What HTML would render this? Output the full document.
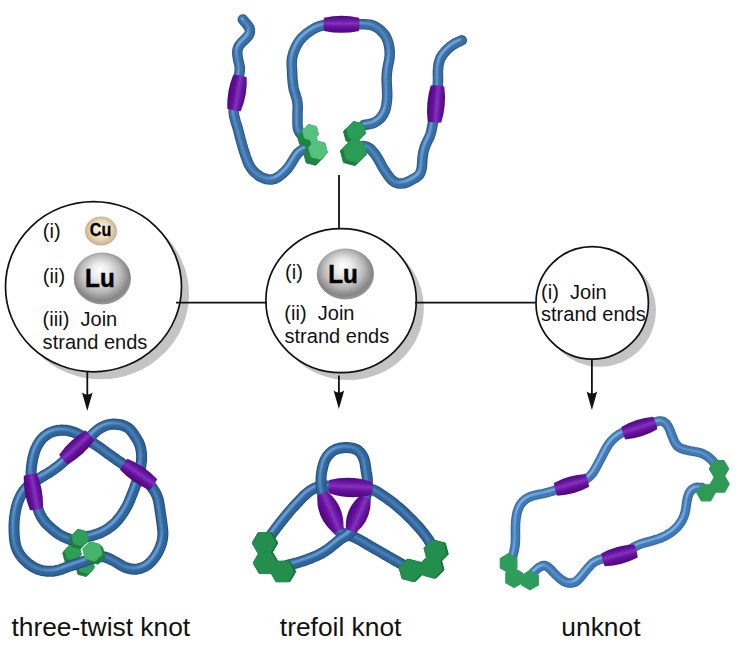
<!DOCTYPE html>
<html><head><meta charset="utf-8"><style>
html,body{margin:0;padding:0;background:#fff;}
svg{display:block;}
</style></head><body>
<svg width="756" height="647" viewBox="0 0 756 647">
<defs>
<filter id="tb" filterUnits="userSpaceOnUse" x="0" y="0" width="756" height="647" color-interpolation-filters="sRGB">
<feGaussianBlur in="SourceAlpha" stdDeviation="2" result="blur"/>
<feSpecularLighting in="blur" surfaceScale="4" specularConstant="0.55" specularExponent="14" lighting-color="#ffffff" result="spec">
<feDistantLight azimuth="225" elevation="48"/>
</feSpecularLighting>
<feComposite in="spec" in2="SourceAlpha" operator="in" result="specIn"/>
<feComposite in="SourceGraphic" in2="specIn" operator="arithmetic" k1="0" k2="1" k3="0.45" k4="0"/>
</filter>
<linearGradient id="pg" x1="0" y1="0" x2="0" y2="1">
<stop offset="0" stop-color="#4c0880"/><stop offset="0.25" stop-color="#6a14a4"/><stop offset="0.45" stop-color="#8034b8"/><stop offset="0.65" stop-color="#6810a0"/><stop offset="1" stop-color="#4a0678"/>
</linearGradient>
<radialGradient id="lug" cx="0.48" cy="0.45" r="0.56" fx="0.45" fy="0.32">
<stop offset="0" stop-color="#ffffff"/><stop offset="0.28" stop-color="#eaeaea"/><stop offset="0.62" stop-color="#bcbcbc"/><stop offset="0.88" stop-color="#858585"/><stop offset="1" stop-color="#9c9c9c"/>
</radialGradient>
<radialGradient id="cug" cx="0.5" cy="0.5" r="0.55" fx="0.5" fy="0.4">
<stop offset="0" stop-color="#fbf5ea"/><stop offset="0.55" stop-color="#eadbc2"/><stop offset="0.9" stop-color="#c9b28a"/><stop offset="1" stop-color="#b09a72"/>
</radialGradient>
</defs>
<ellipse cx="101.0" cy="294.2" rx="88.0" ry="85.1" fill="#c4c4c4"/><ellipse cx="93.5" cy="286.7" rx="88.0" ry="85.1" fill="#fff" stroke="#111" stroke-width="1.7"/>
<ellipse cx="348.6" cy="308.1" rx="75.2" ry="72.0" fill="#c4c4c4"/><ellipse cx="341.1" cy="300.6" rx="75.2" ry="72.0" fill="#fff" stroke="#111" stroke-width="1.7"/>
<ellipse cx="599.7" cy="310.4" rx="56.2" ry="56.3" fill="#c4c4c4"/><ellipse cx="592.2" cy="302.9" rx="56.2" ry="56.3" fill="#fff" stroke="#111" stroke-width="1.7"/>
<line x1="339" y1="175" x2="339" y2="229" stroke="#111" stroke-width="1.8"/>
<line x1="176" y1="302.7" x2="267" y2="302.7" stroke="#111" stroke-width="1.8"/>
<line x1="415" y1="302.7" x2="536" y2="302.7" stroke="#111" stroke-width="1.8"/>
<line x1="87.3" y1="371.0" x2="87.3" y2="401.0" stroke="#111" stroke-width="1.8"/><path d="M82.0,392.5 Q85.3,395.0 87.3,394.5 Q89.3,395.0 92.6,392.5 L87.3,411.0 Z" fill="#111"/>
<line x1="338.9" y1="375.5" x2="338.9" y2="399.0" stroke="#111" stroke-width="1.8"/><path d="M333.6,390.5 Q336.9,393.0 338.9,392.5 Q340.9,393.0 344.2,390.5 L338.9,409.0 Z" fill="#111"/>
<line x1="591.9" y1="360.0" x2="591.9" y2="400.0" stroke="#111" stroke-width="1.8"/><path d="M586.6,391.5 Q589.9,394.0 591.9,393.5 Q593.9,394.0 597.2,391.5 L591.9,410.0 Z" fill="#111"/>
<text transform="translate(42.8,238.0) scale(1.040,1)" font-family="Liberation Sans" font-size="19.3"  fill="#111" text-anchor="start">(i)</text>
<ellipse cx="101.0" cy="231.0" rx="16.0" ry="14.6" fill="url(#cug)"/><text transform="translate(100.5,236.3) scale(0.920,1)" font-family="Liberation Sans" font-size="17.5" font-weight="bold" fill="#000" stroke="#000" stroke-width="0.30" text-anchor="middle">Cu</text>
<text transform="translate(42.8,282.5) scale(1.040,1)" font-family="Liberation Sans" font-size="19.3"  fill="#111" text-anchor="start">(ii)</text>
<ellipse cx="102.4" cy="278.5" rx="28.6" ry="25.9" fill="url(#lug)"/><text transform="translate(99.9,287.2) scale(0.950,1)" font-family="Liberation Sans" font-size="25.5" font-weight="bold" fill="#000" stroke="#000" stroke-width="0.50" text-anchor="middle">Lu</text>
<text transform="translate(42.6,325.9) scale(1.040,1)" font-family="Liberation Sans" font-size="19.3"  fill="#111" text-anchor="start">(iii)&#160;&#160;Join</text>
<text transform="translate(42.6,348.6) scale(1.040,1)" font-family="Liberation Sans" font-size="19.3"  fill="#111" text-anchor="start">strand ends</text>
<text transform="translate(285.0,278.5) scale(1.040,1)" font-family="Liberation Sans" font-size="19.3"  fill="#111" text-anchor="start">(i)</text>
<ellipse cx="345.4" cy="274.0" rx="28.6" ry="25.4" fill="url(#lug)"/><text transform="translate(343.1,282.6) scale(0.950,1)" font-family="Liberation Sans" font-size="25.5" font-weight="bold" fill="#000" stroke="#000" stroke-width="0.50" text-anchor="middle">Lu</text>
<text transform="translate(284.3,320.2) scale(1.040,1)" font-family="Liberation Sans" font-size="19.3"  fill="#111" text-anchor="start">(ii)&#160;&#160;Join</text>
<text transform="translate(284.5,342.5) scale(1.040,1)" font-family="Liberation Sans" font-size="19.3"  fill="#111" text-anchor="start">strand ends</text>
<text transform="translate(541.0,299.0) scale(1.040,1)" font-family="Liberation Sans" font-size="19.3"  fill="#111" text-anchor="start">(i)&#160;&#160;Join</text>
<text transform="translate(541.0,320.8) scale(1.040,1)" font-family="Liberation Sans" font-size="19.3"  fill="#111" text-anchor="start">strand ends</text>
<text transform="translate(11.4,636.3) scale(1.055,1)" font-family="Liberation Sans" font-size="25.0"  fill="#111" text-anchor="start">three-twist knot</text>
<text transform="translate(279.8,636.3) scale(1.055,1)" font-family="Liberation Sans" font-size="25.0"  fill="#111" text-anchor="start">trefoil knot</text>
<text transform="translate(561.3,636.3) scale(1.055,1)" font-family="Liberation Sans" font-size="25.0"  fill="#111" text-anchor="start">unknot</text>
<g filter="url(#tb)"><path d="M242.8,19.5 244.2,21.2 245.7,22.9 247.1,24.6 248.4,26.3 249.4,28.0 249.9,29.8 249.9,31.8 249.4,33.7 248.5,35.6 247.1,37.2 245.6,38.7 244.0,40.3 242.4,41.8 240.9,43.5 239.5,45.2 238.4,47.1 237.7,49.0 237.3,51.1 237.3,53.2 237.4,55.4 237.8,57.6 238.2,59.8 238.7,62.0 239.2,64.1 239.6,66.3 239.8,68.4 239.8,70.5 239.5,72.6 239.2,74.7 238.9,76.7 238.7,78.6 238.5,80.6 238.3,82.6 238.1,84.6 237.8,86.7 237.6,88.8 237.3,90.9 237.0,93.0 236.6,95.0 236.1,97.0 235.6,99.0 235.1,101.0 234.6,103.0 234.2,105.0 233.9,107.0 233.7,109.0 233.6,111.0 233.8,113.0 234.0,115.1 234.4,117.1 235.0,119.1 235.5,121.2 236.1,123.2 236.8,125.3 237.4,127.3 238.0,129.3 238.5,131.3 239.0,133.3 239.5,135.2 240.0,137.2 240.5,139.1 241.0,141.1 241.6,143.1 242.1,145.0 242.7,146.9 243.3,148.9 243.9,150.9 244.6,152.9 245.3,155.0 245.9,157.0 246.7,159.1 247.4,161.1 248.2,163.0 249.1,164.9 250.1,166.6 251.2,168.3 252.4,170.0 253.9,171.5 255.4,173.0 257.0,174.3 258.6,175.6 260.3,176.6 262.1,177.5 264.0,178.3 266.0,179.0 268.1,179.4 270.1,179.6 272.1,179.5 274.0,179.0 275.8,178.3 277.6,177.4 279.4,176.2 281.1,174.8 282.8,173.4 284.5,171.8 286.0,170.3 287.4,168.7 288.7,167.0 289.9,165.3 291.1,163.4 292.3,161.5 293.4,159.6 294.6,157.7 295.7,156.0 296.9,154.4 298.1,152.9 299.6,151.6 301.3,150.3 303.1,149.3 305.1,148.3 307.0,147.5 308.0,147.0" fill="none" stroke="#2b5987" stroke-width="10.5" stroke-linecap="round" stroke-linejoin="round"/><path d="M242.8,19.5 244.2,21.2 245.7,22.9 247.1,24.6 248.4,26.3 249.4,28.0 249.9,29.8 249.9,31.8 249.4,33.7 248.5,35.6 247.1,37.2 245.6,38.7 244.0,40.3 242.4,41.8 240.9,43.5 239.5,45.2 238.4,47.1 237.7,49.0 237.3,51.1 237.3,53.2 237.4,55.4 237.8,57.6 238.2,59.8 238.7,62.0 239.2,64.1 239.6,66.3 239.8,68.4 239.8,70.5 239.5,72.6 239.2,74.7 238.9,76.7 238.7,78.6 238.5,80.6 238.3,82.6 238.1,84.6 237.8,86.7 237.6,88.8 237.3,90.9 237.0,93.0 236.6,95.0 236.1,97.0 235.6,99.0 235.1,101.0 234.6,103.0 234.2,105.0 233.9,107.0 233.7,109.0 233.6,111.0 233.8,113.0 234.0,115.1 234.4,117.1 235.0,119.1 235.5,121.2 236.1,123.2 236.8,125.3 237.4,127.3 238.0,129.3 238.5,131.3 239.0,133.3 239.5,135.2 240.0,137.2 240.5,139.1 241.0,141.1 241.6,143.1 242.1,145.0 242.7,146.9 243.3,148.9 243.9,150.9 244.6,152.9 245.3,155.0 245.9,157.0 246.7,159.1 247.4,161.1 248.2,163.0 249.1,164.9 250.1,166.6 251.2,168.3 252.4,170.0 253.9,171.5 255.4,173.0 257.0,174.3 258.6,175.6 260.3,176.6 262.1,177.5 264.0,178.3 266.0,179.0 268.1,179.4 270.1,179.6 272.1,179.5 274.0,179.0 275.8,178.3 277.6,177.4 279.4,176.2 281.1,174.8 282.8,173.4 284.5,171.8 286.0,170.3 287.4,168.7 288.7,167.0 289.9,165.3 291.1,163.4 292.3,161.5 293.4,159.6 294.6,157.7 295.7,156.0 296.9,154.4 298.1,152.9 299.6,151.6 301.3,150.3 303.1,149.3 305.1,148.3 307.0,147.5 308.0,147.0" fill="none" stroke="#386ea3" stroke-width="8.3" stroke-linecap="round" stroke-linejoin="round"/></g>
<g filter="url(#tb)"><path d="M304.0,137.0 302.5,135.6 301.1,134.2 299.8,132.6 298.8,131.0 298.2,129.3 297.8,127.4 297.6,125.4 297.5,123.4 297.5,121.2 297.5,119.1 297.5,117.0 297.5,115.0 297.5,112.9 297.6,110.8 297.7,108.7 297.7,106.6 297.6,104.5 297.4,102.5 297.1,100.5 296.6,98.5 296.0,96.5 295.4,94.6 294.8,92.7 294.2,90.7 293.7,88.7 293.3,86.6 293.0,84.6 292.8,82.5 292.6,80.4 292.4,78.2 292.3,76.1 292.2,74.0 292.1,71.9 292.0,69.9 291.9,67.9 291.7,65.9 291.7,64.0 291.7,62.0 291.8,60.1 292.1,58.1 292.5,56.2 293.0,54.3 293.6,52.3 294.3,50.4 295.2,48.4 296.1,46.4 297.1,44.5 298.2,42.7 299.4,40.9 300.7,39.3 302.0,37.8 303.4,36.4 304.9,35.0 306.5,33.7 308.2,32.4 309.9,31.2 311.7,30.0 313.5,28.9 315.3,28.0 317.2,27.1 319.0,26.4 320.9,25.8 322.9,25.3 324.8,25.0 326.9,24.7 328.9,24.6 330.9,24.5 333.0,24.4 335.0,24.4 337.1,24.4 339.1,24.3 341.1,24.3 343.1,24.2 345.2,24.2 347.2,24.1 349.2,24.1 351.2,24.1 353.2,24.2 355.2,24.2 357.1,24.2 359.1,24.3 361.1,24.3 363.2,24.3 365.2,24.3 367.2,24.4 369.2,24.6 371.1,25.0 372.9,25.6 374.7,26.4 376.5,27.3 378.3,28.5 379.9,29.8 381.5,31.2 383.0,32.8 384.3,34.4 385.5,36.0 386.4,37.8 387.2,39.6 387.9,41.5 388.5,43.5 388.9,45.5 389.3,47.6 389.5,49.7 389.7,51.8 389.7,53.8 389.7,55.8 389.5,57.7 389.2,59.7 388.8,61.7 388.4,63.7 388.0,65.7 387.6,67.7 387.3,69.8 387.0,71.9 386.8,73.9 386.7,76.0 386.6,78.0 386.6,80.1 386.7,82.2 386.8,84.3 386.9,86.5 387.0,88.6 387.1,90.7 387.2,92.8 387.2,94.8 387.2,96.7 387.1,98.7 386.9,100.6 386.7,102.6 386.4,104.7 386.0,106.7 385.6,108.7 385.0,110.5 384.3,112.3 383.4,114.0 382.4,115.7 381.2,117.3 379.8,118.8 378.3,120.1 376.7,121.3 375.0,122.3 373.2,123.1 371.2,123.7 369.2,124.1 367.1,124.5 365.0,124.8 364.0,125.0" fill="none" stroke="#2b5987" stroke-width="10.5" stroke-linecap="round" stroke-linejoin="round"/><path d="M304.0,137.0 302.5,135.6 301.1,134.2 299.8,132.6 298.8,131.0 298.2,129.3 297.8,127.4 297.6,125.4 297.5,123.4 297.5,121.2 297.5,119.1 297.5,117.0 297.5,115.0 297.5,112.9 297.6,110.8 297.7,108.7 297.7,106.6 297.6,104.5 297.4,102.5 297.1,100.5 296.6,98.5 296.0,96.5 295.4,94.6 294.8,92.7 294.2,90.7 293.7,88.7 293.3,86.6 293.0,84.6 292.8,82.5 292.6,80.4 292.4,78.2 292.3,76.1 292.2,74.0 292.1,71.9 292.0,69.9 291.9,67.9 291.7,65.9 291.7,64.0 291.7,62.0 291.8,60.1 292.1,58.1 292.5,56.2 293.0,54.3 293.6,52.3 294.3,50.4 295.2,48.4 296.1,46.4 297.1,44.5 298.2,42.7 299.4,40.9 300.7,39.3 302.0,37.8 303.4,36.4 304.9,35.0 306.5,33.7 308.2,32.4 309.9,31.2 311.7,30.0 313.5,28.9 315.3,28.0 317.2,27.1 319.0,26.4 320.9,25.8 322.9,25.3 324.8,25.0 326.9,24.7 328.9,24.6 330.9,24.5 333.0,24.4 335.0,24.4 337.1,24.4 339.1,24.3 341.1,24.3 343.1,24.2 345.2,24.2 347.2,24.1 349.2,24.1 351.2,24.1 353.2,24.2 355.2,24.2 357.1,24.2 359.1,24.3 361.1,24.3 363.2,24.3 365.2,24.3 367.2,24.4 369.2,24.6 371.1,25.0 372.9,25.6 374.7,26.4 376.5,27.3 378.3,28.5 379.9,29.8 381.5,31.2 383.0,32.8 384.3,34.4 385.5,36.0 386.4,37.8 387.2,39.6 387.9,41.5 388.5,43.5 388.9,45.5 389.3,47.6 389.5,49.7 389.7,51.8 389.7,53.8 389.7,55.8 389.5,57.7 389.2,59.7 388.8,61.7 388.4,63.7 388.0,65.7 387.6,67.7 387.3,69.8 387.0,71.9 386.8,73.9 386.7,76.0 386.6,78.0 386.6,80.1 386.7,82.2 386.8,84.3 386.9,86.5 387.0,88.6 387.1,90.7 387.2,92.8 387.2,94.8 387.2,96.7 387.1,98.7 386.9,100.6 386.7,102.6 386.4,104.7 386.0,106.7 385.6,108.7 385.0,110.5 384.3,112.3 383.4,114.0 382.4,115.7 381.2,117.3 379.8,118.8 378.3,120.1 376.7,121.3 375.0,122.3 373.2,123.1 371.2,123.7 369.2,124.1 367.1,124.5 365.0,124.8 364.0,125.0" fill="none" stroke="#386ea3" stroke-width="8.3" stroke-linecap="round" stroke-linejoin="round"/></g>
<g filter="url(#tb)"><path d="M461.8,40.3 459.8,41.2 457.9,42.1 456.0,43.0 454.1,44.0 452.4,45.2 450.7,46.4 449.1,47.7 447.5,49.1 446.1,50.6 444.7,52.1 443.3,53.7 442.1,55.4 441.0,57.2 440.2,59.0 439.5,60.9 438.9,62.9 438.5,64.9 438.3,66.9 438.1,68.9 437.9,70.8 437.9,72.8 437.9,74.7 438.0,76.7 438.0,78.8 438.0,80.8 437.9,82.8 437.8,84.8 437.7,86.7 437.6,88.7 437.4,90.7 437.2,92.8 437.0,94.9 436.8,97.0 436.6,99.0 436.4,101.0 436.1,103.1 435.8,105.1 435.6,107.1 435.2,109.2 434.9,111.3 434.6,113.3 434.2,115.3 433.9,117.2 433.5,119.2 433.2,121.1 432.8,123.1 432.5,125.1 432.1,127.2 431.7,129.2 431.3,131.1 430.8,133.1 430.2,135.0 429.5,136.9 428.6,138.7 427.7,140.6 426.8,142.4 425.9,144.3 425.1,146.1 424.5,148.1 423.9,150.1 423.4,152.1 423.0,154.2 422.7,156.2 422.5,158.3 422.3,160.3 422.2,162.4 422.1,164.5 421.9,166.6 421.6,168.7 421.1,170.9 420.3,172.9 419.3,174.7 417.9,176.1 416.3,177.3 414.5,178.4 412.7,179.3 410.8,180.3 409.0,181.3 407.1,182.1 405.2,182.9 403.3,183.4 401.3,183.6 399.2,183.5 397.1,183.1 395.2,182.4 393.5,181.4 392.0,180.2 390.6,178.8 389.4,177.2 388.1,175.5 386.9,173.7 385.7,172.0 384.5,170.2 383.4,168.5 382.4,166.7 381.3,164.8 380.3,162.9 379.3,161.0 378.3,159.2 377.2,157.5 376.2,155.8 375.0,154.2 373.7,152.5 372.3,150.9 370.9,149.4 369.4,148.2 367.8,147.2 366.0,146.6 364.0,146.2 362.0,146.0" fill="none" stroke="#2b5987" stroke-width="10.5" stroke-linecap="round" stroke-linejoin="round"/><path d="M461.8,40.3 459.8,41.2 457.9,42.1 456.0,43.0 454.1,44.0 452.4,45.2 450.7,46.4 449.1,47.7 447.5,49.1 446.1,50.6 444.7,52.1 443.3,53.7 442.1,55.4 441.0,57.2 440.2,59.0 439.5,60.9 438.9,62.9 438.5,64.9 438.3,66.9 438.1,68.9 437.9,70.8 437.9,72.8 437.9,74.7 438.0,76.7 438.0,78.8 438.0,80.8 437.9,82.8 437.8,84.8 437.7,86.7 437.6,88.7 437.4,90.7 437.2,92.8 437.0,94.9 436.8,97.0 436.6,99.0 436.4,101.0 436.1,103.1 435.8,105.1 435.6,107.1 435.2,109.2 434.9,111.3 434.6,113.3 434.2,115.3 433.9,117.2 433.5,119.2 433.2,121.1 432.8,123.1 432.5,125.1 432.1,127.2 431.7,129.2 431.3,131.1 430.8,133.1 430.2,135.0 429.5,136.9 428.6,138.7 427.7,140.6 426.8,142.4 425.9,144.3 425.1,146.1 424.5,148.1 423.9,150.1 423.4,152.1 423.0,154.2 422.7,156.2 422.5,158.3 422.3,160.3 422.2,162.4 422.1,164.5 421.9,166.6 421.6,168.7 421.1,170.9 420.3,172.9 419.3,174.7 417.9,176.1 416.3,177.3 414.5,178.4 412.7,179.3 410.8,180.3 409.0,181.3 407.1,182.1 405.2,182.9 403.3,183.4 401.3,183.6 399.2,183.5 397.1,183.1 395.2,182.4 393.5,181.4 392.0,180.2 390.6,178.8 389.4,177.2 388.1,175.5 386.9,173.7 385.7,172.0 384.5,170.2 383.4,168.5 382.4,166.7 381.3,164.8 380.3,162.9 379.3,161.0 378.3,159.2 377.2,157.5 376.2,155.8 375.0,154.2 373.7,152.5 372.3,150.9 370.9,149.4 369.4,148.2 367.8,147.2 366.0,146.6 364.0,146.2 362.0,146.0" fill="none" stroke="#386ea3" stroke-width="8.3" stroke-linecap="round" stroke-linejoin="round"/></g>
<g transform="translate(237.0,93.0) rotate(100.0)"><path d="M-17.3,-6.8 Q0,-10.7 17.3,-6.8 Q18.5,0 17.3,6.8 Q0,10.7 -17.3,6.8 Q-18.5,0 -17.3,-6.8Z" fill="url(#pg)"/></g>
<g transform="translate(341.5,24.3) rotate(0.0)"><path d="M-17.5,-6.6 Q0,-10.4 17.5,-6.6 Q18.7,0 17.5,6.6 Q0,10.4 -17.5,6.6 Q-18.7,0 -17.5,-6.6Z" fill="url(#pg)"/></g>
<g transform="translate(436.0,104.0) rotate(94.8)"><path d="M-18.1,-6.8 Q0,-10.7 18.1,-6.8 Q19.3,0 18.1,6.8 Q0,10.7 -18.1,6.8 Q-19.3,0 -18.1,-6.8Z" fill="url(#pg)"/></g>
<polygon points="297.6,136.4 302.6,130.4 308.4,124.6 316.3,126.7 318.4,134.6 313.4,140.6 307.6,146.4 299.7,144.3" fill="#1f8444" stroke="#1f8444" stroke-width="1" stroke-linejoin="round"/><polygon points="303.7,153.5 308.7,147.5 315.5,140.7 324.8,143.2 327.3,152.5 322.3,158.5 315.5,165.3 306.2,162.8" fill="#1f8444" stroke="#1f8444" stroke-width="1" stroke-linejoin="round"/><line x1="305.5" y1="138.5" x2="313.0" y2="156.0" stroke="#1f8444" stroke-width="7.4"/><line x1="310.5" y1="132.5" x2="318.0" y2="150.0" stroke="#52c27c" stroke-width="7.4"/><polygon points="318.4,134.6 312.6,140.4 304.7,138.3 302.6,130.4 308.4,124.6 316.3,126.7" fill="#52c27c" stroke="#52c27c" stroke-width="1" stroke-linejoin="round"/><polygon points="327.3,152.5 320.5,159.3 311.2,156.8 308.7,147.5 315.5,140.7 324.8,143.2" fill="#52c27c" stroke="#52c27c" stroke-width="1" stroke-linejoin="round"/>
<polygon points="343.5,131.5 353.5,121.5 362.9,124.1 365.5,133.5 355.5,143.5 346.1,140.9" fill="#1c7c3e" stroke="#1c7c3e" stroke-width="1" stroke-linejoin="round"/><polygon points="340.4,150.9 348.9,142.4 351.9,139.4 363.5,142.5 366.6,154.1 358.1,162.6 355.1,165.6 343.5,162.5" fill="#1c7c3e" stroke="#1c7c3e" stroke-width="1" stroke-linejoin="round"/><line x1="353.0" y1="134.0" x2="352.0" y2="154.0" stroke="#1c7c3e" stroke-width="8.8"/><line x1="356.0" y1="131.0" x2="355.0" y2="151.0" stroke="#2a9c55" stroke-width="8.8"/><polygon points="365.5,133.5 358.5,140.5 349.1,137.9 346.5,128.5 353.5,121.5 362.9,124.1" fill="#2a9c55" stroke="#2a9c55" stroke-width="1" stroke-linejoin="round"/><polygon points="366.6,154.1 358.1,162.6 346.5,159.5 343.4,147.9 351.9,139.4 363.5,142.5" fill="#2a9c55" stroke="#2a9c55" stroke-width="1" stroke-linejoin="round"/>
<polygon points="62.7,553.1 64.7,550.1 70.8,544.0 79.1,546.2 81.3,554.5 79.3,557.5 73.2,563.6 64.9,561.4" fill="#1d7c3e" stroke="#1d7c3e" stroke-width="0.8" stroke-linejoin="round"/><polygon points="81.3,554.5 75.2,560.6 66.9,558.4 64.7,550.1 70.8,544.0 79.1,546.2" fill="#2f9f58" stroke="#2f9f58" stroke-width="0.8" stroke-linejoin="round"/>
<polygon points="75.7,566.1 77.7,563.1 83.8,557.0 92.1,559.2 94.3,567.5 92.3,570.5 86.2,576.6 77.9,574.4" fill="#1d7c3e" stroke="#1d7c3e" stroke-width="0.8" stroke-linejoin="round"/><polygon points="94.3,567.5 88.2,573.6 79.9,571.4 77.7,563.1 83.8,557.0 92.1,559.2" fill="#2f9f58" stroke="#2f9f58" stroke-width="0.8" stroke-linejoin="round"/>
<g filter="url(#tb)"><path d="M70.0,539.5 68.0,538.6 65.9,537.8 63.9,536.9 62.0,536.0 60.1,535.0 58.4,533.9 56.7,532.7 55.1,531.5 53.6,530.3 52.0,529.0 50.5,527.6 49.0,526.2 47.5,524.8 46.0,523.3 44.7,521.7 43.5,520.1 42.3,518.4 41.3,516.7 40.4,514.9 39.5,513.0 38.7,511.1 38.1,509.2 37.5,507.2 37.0,505.2 36.4,503.1 36.0,501.1 35.5,499.0 35.0,497.0 34.5,494.9 34.0,492.9 33.5,490.9 33.0,488.9 32.6,486.9 32.2,484.9 31.9,483.0 31.6,481.0 31.3,479.0 31.2,477.1 31.1,475.1 31.1,473.1 31.1,471.1 31.3,469.1 31.5,467.1 31.7,465.0 32.0,463.0 32.4,461.0 32.7,458.9 33.2,456.9 33.7,454.9 34.3,452.8 34.9,450.9 35.7,448.9 36.6,447.0 37.5,445.1 38.7,443.2 39.9,441.4 41.2,439.7 42.6,438.1 44.2,436.6 45.9,435.3 47.7,434.1 49.6,433.0 51.5,432.1 53.6,431.4 55.6,430.9 57.7,430.5 59.9,430.2 62.0,430.1 64.0,430.2 66.1,430.3 68.1,430.6 70.1,431.1 72.0,431.6 74.0,432.3 75.9,433.1 77.9,434.0 79.8,434.9 81.6,435.9 83.3,436.9 85.1,437.9 86.9,439.1 88.7,440.2 90.6,441.4 92.4,442.6 94.2,443.8 96.0,445.0 97.7,446.2 99.4,447.3 101.1,448.5 102.7,449.7 104.4,450.9 106.0,452.1 107.6,453.3 109.2,454.5 110.9,455.6 112.6,456.9 114.3,458.1 116.0,459.3 117.6,460.5 119.4,461.7 121.1,462.8 122.8,464.0 124.5,465.1 126.3,466.2 128.0,467.3 129.8,468.4 131.6,469.5 133.3,470.6 135.1,471.8 136.7,473.0 138.4,474.3 140.0,475.5 141.6,476.9 143.2,478.2 144.8,479.6 146.3,481.0 147.7,482.4 149.1,483.9 150.4,485.4 151.7,487.0 152.9,488.7 154.1,490.5 155.2,492.3 156.2,494.1 157.0,496.0 157.7,498.0 158.3,499.9 158.7,501.9 159.1,503.9 159.4,505.9 159.7,507.9 160.0,510.0 160.3,512.0 160.6,514.0 160.9,516.0 161.2,518.1 161.5,520.1 161.8,522.1 162.0,524.1 162.3,526.1 162.5,528.1 162.7,530.1 162.9,532.1 162.9,534.0 162.8,536.0 162.6,538.0 162.3,540.0 161.8,542.0 161.3,544.0 160.6,545.9 159.9,547.9 159.0,549.8 158.1,551.7 157.1,553.5 156.0,555.4 154.8,557.1 153.5,558.9 152.1,560.5 150.7,562.1 149.1,563.6 147.5,564.9 145.7,566.0 143.9,567.0 142.0,567.8 140.0,568.4 138.0,568.9 135.9,569.2 133.9,569.2 131.8,569.1 129.7,568.7 127.6,568.2 125.7,567.6 123.8,566.7 122.0,565.8 120.2,564.7 118.4,563.6 116.6,562.5 114.8,561.5 112.9,560.5 110.9,559.5 108.9,558.5 106.9,557.7 105.0,557.1 103.0,556.7 101.0,556.7 99.0,556.9 97.0,557.3 95.0,557.8 93.0,558.3 91.1,558.9 89.1,559.6 87.1,560.3 85.1,560.9 83.2,561.6 81.2,562.3 79.3,562.9 77.2,563.6 75.2,564.3 73.1,565.0 71.1,565.7 69.0,566.4 67.0,567.1 65.0,567.9 63.0,568.6 61.0,569.4 59.0,570.0 57.0,570.5 55.0,570.9 52.9,571.2 50.9,571.3 48.8,571.3 46.7,571.2 44.6,570.9 42.6,570.6 40.6,570.1 38.6,569.5 36.7,568.8 34.8,567.9 33.0,566.9 31.3,565.8 29.6,564.6 27.9,563.3 26.4,562.0 24.9,560.6 23.4,559.1 22.1,557.5 20.8,555.9 19.6,554.2 18.5,552.4 17.6,550.5 16.8,548.7 16.1,546.8 15.6,544.8 15.1,542.7 14.8,540.6 14.5,538.5 14.3,536.4 14.2,534.2 14.1,532.1 14.0,530.0 14.0,528.0 14.0,525.9 14.1,523.9 14.2,521.8 14.3,519.8 14.5,517.7 14.8,515.7 15.1,513.8 15.4,511.8 15.8,509.8 16.2,507.8 16.8,505.7 17.4,503.7 18.0,501.8 18.8,499.8 19.6,498.0 20.5,496.1 21.5,494.2 22.7,492.4 23.9,490.6 25.3,489.0 26.7,487.5 28.1,486.1 29.7,484.9 31.3,483.7 33.1,482.5 34.8,481.3 36.6,480.2 38.3,479.1 40.0,478.0 41.8,476.9 43.5,475.8 45.3,474.7 47.1,473.7 48.8,472.7 50.5,471.6 52.2,470.5 53.9,469.3 55.6,468.1 57.2,466.9 58.9,465.6 60.5,464.2 62.1,462.8 63.6,461.4 65.0,460.0 66.4,458.5 67.8,457.0 69.2,455.4 70.6,453.8 72.0,452.2 73.4,450.6 74.9,449.1 76.3,447.7 77.9,446.3 79.5,444.9 81.3,443.6 83.0,442.3 84.7,441.0 86.3,439.8 87.9,438.7 89.4,437.4 90.8,436.2 92.2,434.8 93.6,433.4 95.1,432.0 96.7,430.7 98.4,429.4 100.2,428.2 102.1,427.1 104.0,426.2 105.9,425.4 107.9,424.8 109.9,424.4 111.9,424.2 113.9,424.1 116.0,424.2 118.1,424.4 120.1,424.7 122.2,425.2 124.2,425.9 126.0,426.7 127.7,427.7 129.3,428.9 130.7,430.3 132.0,431.9 133.2,433.5 134.4,435.2 135.5,436.9 136.6,438.6 137.6,440.4 138.6,442.2 139.4,444.1 140.1,446.0 140.6,447.9 141.0,449.9 141.3,451.8 141.5,453.8 141.6,455.8 141.6,457.9 141.5,459.9 141.4,461.9 141.1,464.0 140.8,466.0 140.5,468.0 140.0,470.0 139.6,472.1 139.0,474.1 138.5,476.1 138.0,478.1 137.4,480.1 136.7,482.1 136.0,484.1 135.3,486.0 134.6,488.0 133.8,490.0 133.0,491.9 132.3,493.8 131.5,495.7 130.8,497.6 130.0,499.5 129.2,501.4 128.4,503.3 127.5,505.2 126.5,507.0 125.5,508.8 124.5,510.5 123.4,512.2 122.3,513.9 121.1,515.6 119.9,517.3 118.6,518.9 117.3,520.4 116.0,521.9 114.6,523.3 113.1,524.7 111.5,526.1 109.8,527.3 108.0,528.6 106.2,529.7 104.4,530.7 102.6,531.7 100.8,532.6 98.9,533.4 96.9,534.1 95.0,534.7 93.0,535.3 91.0,535.8 89.0,536.2 87.0,536.6 85.0,537.0 83.0,537.4 81.0,537.8 80.0,538.0" fill="none" stroke="#23507f" stroke-width="11.0" stroke-linecap="round" stroke-linejoin="round"/><path d="M70.0,539.5 68.0,538.6 65.9,537.8 63.9,536.9 62.0,536.0 60.1,535.0 58.4,533.9 56.7,532.7 55.1,531.5 53.6,530.3 52.0,529.0 50.5,527.6 49.0,526.2 47.5,524.8 46.0,523.3 44.7,521.7 43.5,520.1 42.3,518.4 41.3,516.7 40.4,514.9 39.5,513.0 38.7,511.1 38.1,509.2 37.5,507.2 37.0,505.2 36.4,503.1 36.0,501.1 35.5,499.0 35.0,497.0 34.5,494.9 34.0,492.9 33.5,490.9 33.0,488.9 32.6,486.9 32.2,484.9 31.9,483.0 31.6,481.0 31.3,479.0 31.2,477.1 31.1,475.1 31.1,473.1 31.1,471.1 31.3,469.1 31.5,467.1 31.7,465.0 32.0,463.0 32.4,461.0 32.7,458.9 33.2,456.9 33.7,454.9 34.3,452.8 34.9,450.9 35.7,448.9 36.6,447.0 37.5,445.1 38.7,443.2 39.9,441.4 41.2,439.7 42.6,438.1 44.2,436.6 45.9,435.3 47.7,434.1 49.6,433.0 51.5,432.1 53.6,431.4 55.6,430.9 57.7,430.5 59.9,430.2 62.0,430.1 64.0,430.2 66.1,430.3 68.1,430.6 70.1,431.1 72.0,431.6 74.0,432.3 75.9,433.1 77.9,434.0 79.8,434.9 81.6,435.9 83.3,436.9 85.1,437.9 86.9,439.1 88.7,440.2 90.6,441.4 92.4,442.6 94.2,443.8 96.0,445.0 97.7,446.2 99.4,447.3 101.1,448.5 102.7,449.7 104.4,450.9 106.0,452.1 107.6,453.3 109.2,454.5 110.9,455.6 112.6,456.9 114.3,458.1 116.0,459.3 117.6,460.5 119.4,461.7 121.1,462.8 122.8,464.0 124.5,465.1 126.3,466.2 128.0,467.3 129.8,468.4 131.6,469.5 133.3,470.6 135.1,471.8 136.7,473.0 138.4,474.3 140.0,475.5 141.6,476.9 143.2,478.2 144.8,479.6 146.3,481.0 147.7,482.4 149.1,483.9 150.4,485.4 151.7,487.0 152.9,488.7 154.1,490.5 155.2,492.3 156.2,494.1 157.0,496.0 157.7,498.0 158.3,499.9 158.7,501.9 159.1,503.9 159.4,505.9 159.7,507.9 160.0,510.0 160.3,512.0 160.6,514.0 160.9,516.0 161.2,518.1 161.5,520.1 161.8,522.1 162.0,524.1 162.3,526.1 162.5,528.1 162.7,530.1 162.9,532.1 162.9,534.0 162.8,536.0 162.6,538.0 162.3,540.0 161.8,542.0 161.3,544.0 160.6,545.9 159.9,547.9 159.0,549.8 158.1,551.7 157.1,553.5 156.0,555.4 154.8,557.1 153.5,558.9 152.1,560.5 150.7,562.1 149.1,563.6 147.5,564.9 145.7,566.0 143.9,567.0 142.0,567.8 140.0,568.4 138.0,568.9 135.9,569.2 133.9,569.2 131.8,569.1 129.7,568.7 127.6,568.2 125.7,567.6 123.8,566.7 122.0,565.8 120.2,564.7 118.4,563.6 116.6,562.5 114.8,561.5 112.9,560.5 110.9,559.5 108.9,558.5 106.9,557.7 105.0,557.1 103.0,556.7 101.0,556.7 99.0,556.9 97.0,557.3 95.0,557.8 93.0,558.3 91.1,558.9 89.1,559.6 87.1,560.3 85.1,560.9 83.2,561.6 81.2,562.3 79.3,562.9 77.2,563.6 75.2,564.3 73.1,565.0 71.1,565.7 69.0,566.4 67.0,567.1 65.0,567.9 63.0,568.6 61.0,569.4 59.0,570.0 57.0,570.5 55.0,570.9 52.9,571.2 50.9,571.3 48.8,571.3 46.7,571.2 44.6,570.9 42.6,570.6 40.6,570.1 38.6,569.5 36.7,568.8 34.8,567.9 33.0,566.9 31.3,565.8 29.6,564.6 27.9,563.3 26.4,562.0 24.9,560.6 23.4,559.1 22.1,557.5 20.8,555.9 19.6,554.2 18.5,552.4 17.6,550.5 16.8,548.7 16.1,546.8 15.6,544.8 15.1,542.7 14.8,540.6 14.5,538.5 14.3,536.4 14.2,534.2 14.1,532.1 14.0,530.0 14.0,528.0 14.0,525.9 14.1,523.9 14.2,521.8 14.3,519.8 14.5,517.7 14.8,515.7 15.1,513.8 15.4,511.8 15.8,509.8 16.2,507.8 16.8,505.7 17.4,503.7 18.0,501.8 18.8,499.8 19.6,498.0 20.5,496.1 21.5,494.2 22.7,492.4 23.9,490.6 25.3,489.0 26.7,487.5 28.1,486.1 29.7,484.9 31.3,483.7 33.1,482.5 34.8,481.3 36.6,480.2 38.3,479.1 40.0,478.0 41.8,476.9 43.5,475.8 45.3,474.7 47.1,473.7 48.8,472.7 50.5,471.6 52.2,470.5 53.9,469.3 55.6,468.1 57.2,466.9 58.9,465.6 60.5,464.2 62.1,462.8 63.6,461.4 65.0,460.0 66.4,458.5 67.8,457.0 69.2,455.4 70.6,453.8 72.0,452.2 73.4,450.6 74.9,449.1 76.3,447.7 77.9,446.3 79.5,444.9 81.3,443.6 83.0,442.3 84.7,441.0 86.3,439.8 87.9,438.7 89.4,437.4 90.8,436.2 92.2,434.8 93.6,433.4 95.1,432.0 96.7,430.7 98.4,429.4 100.2,428.2 102.1,427.1 104.0,426.2 105.9,425.4 107.9,424.8 109.9,424.4 111.9,424.2 113.9,424.1 116.0,424.2 118.1,424.4 120.1,424.7 122.2,425.2 124.2,425.9 126.0,426.7 127.7,427.7 129.3,428.9 130.7,430.3 132.0,431.9 133.2,433.5 134.4,435.2 135.5,436.9 136.6,438.6 137.6,440.4 138.6,442.2 139.4,444.1 140.1,446.0 140.6,447.9 141.0,449.9 141.3,451.8 141.5,453.8 141.6,455.8 141.6,457.9 141.5,459.9 141.4,461.9 141.1,464.0 140.8,466.0 140.5,468.0 140.0,470.0 139.6,472.1 139.0,474.1 138.5,476.1 138.0,478.1 137.4,480.1 136.7,482.1 136.0,484.1 135.3,486.0 134.6,488.0 133.8,490.0 133.0,491.9 132.3,493.8 131.5,495.7 130.8,497.6 130.0,499.5 129.2,501.4 128.4,503.3 127.5,505.2 126.5,507.0 125.5,508.8 124.5,510.5 123.4,512.2 122.3,513.9 121.1,515.6 119.9,517.3 118.6,518.9 117.3,520.4 116.0,521.9 114.6,523.3 113.1,524.7 111.5,526.1 109.8,527.3 108.0,528.6 106.2,529.7 104.4,530.7 102.6,531.7 100.8,532.6 98.9,533.4 96.9,534.1 95.0,534.7 93.0,535.3 91.0,535.8 89.0,536.2 87.0,536.6 85.0,537.0 83.0,537.4 81.0,537.8 80.0,538.0" fill="none" stroke="#2f649b" stroke-width="8.8" stroke-linecap="round" stroke-linejoin="round"/></g>
<g transform="translate(33.4,491.8) rotate(79.8)"><path d="M-17.5,-6.6 Q0,-10.4 17.5,-6.6 Q18.7,0 17.5,6.6 Q0,10.4 -17.5,6.6 Q-18.7,0 -17.5,-6.6Z" fill="url(#pg)"/></g>
<g transform="translate(76.8,447.5) rotate(-42.2)"><path d="M-17.9,-6.6 Q0,-10.4 17.9,-6.6 Q19.1,0 17.9,6.6 Q0,10.4 -17.9,6.6 Q-19.1,0 -17.9,-6.6Z" fill="url(#pg)"/></g>
<g transform="translate(138.6,474.5) rotate(34.5)"><path d="M-18.0,-6.6 Q0,-10.4 18.0,-6.6 Q19.2,0 18.0,6.6 Q0,10.4 -18.0,6.6 Q-19.2,0 -18.0,-6.6Z" fill="url(#pg)"/></g>
<polygon points="69.7,538.4 71.7,535.4 77.8,529.3 86.1,531.5 88.3,539.8 86.3,542.8 80.2,548.9 71.9,546.7" fill="#1d7c3e" stroke="#1d7c3e" stroke-width="0.8" stroke-linejoin="round"/><polygon points="88.3,539.8 82.2,545.9 73.9,543.7 71.7,535.4 77.8,529.3 86.1,531.5" fill="#2f9f58" stroke="#2f9f58" stroke-width="0.8" stroke-linejoin="round"/>
<polygon points="82.8,548.9 89.9,541.8 99.6,544.4 102.6,547.4 105.2,557.1 98.1,564.2 88.4,561.6 85.4,558.6" fill="#1d7c3e" stroke="#1d7c3e" stroke-width="0.8" stroke-linejoin="round"/><polygon points="102.2,554.1 95.1,561.2 85.4,558.6 82.8,548.9 89.9,541.8 99.6,544.4" fill="#45b36a" stroke="#45b36a" stroke-width="0.8" stroke-linejoin="round"/>
<g filter="url(#tb)"><path d="M268.0,539.0 269.2,537.4 270.5,535.7 271.7,534.1 272.9,532.4 274.2,530.8 275.4,529.1 276.6,527.5 277.9,525.8 279.1,524.2 280.3,522.6 281.6,521.1 282.8,519.5 284.1,517.9 285.4,516.4 286.7,514.8 288.0,513.2 289.3,511.6 290.7,510.0 292.0,508.5 293.3,507.0 294.7,505.6 296.0,504.1 297.4,502.7 298.8,501.2 300.3,499.6 301.8,498.1 303.3,496.5 304.8,495.0 306.4,493.6 307.9,492.3 309.5,491.1 311.2,490.0 313.0,489.0 315.0,488.1 317.0,487.3 319.0,486.7 321.0,486.3 323.0,486.0 324.9,486.0 326.9,486.1 328.8,486.2 330.8,486.4 332.8,486.5 334.7,486.6 336.6,486.6 338.6,486.6 340.6,486.7 342.7,486.7 344.8,486.8 346.8,486.9 348.9,486.9 351.0,487.0 353.0,487.1 355.0,487.2 357.1,487.3 359.2,487.4 361.2,487.5 363.3,487.7 365.3,487.9 367.3,488.2 369.2,488.6 371.1,489.1 372.9,489.8 374.8,490.6 376.6,491.6 378.3,492.6 380.0,493.7 381.7,494.8 383.4,495.9 385.0,497.0 386.7,498.1 388.3,499.3 389.9,500.5 391.5,501.6 393.1,502.9 394.7,504.1 396.2,505.4 397.8,506.7 399.3,508.0 400.8,509.3 402.4,510.7 403.9,512.1 405.4,513.5 406.8,514.9 408.3,516.3 409.8,517.8 411.2,519.2 412.7,520.7 414.1,522.2 415.5,523.7 416.9,525.2 418.3,526.8 419.7,528.3 421.1,530.0 422.4,531.6 423.8,533.3 425.1,535.0 426.3,536.6 427.5,538.3 428.6,540.0 429.6,541.7 430.6,543.4 431.5,545.1 432.0,546.0" fill="none" stroke="#23507f" stroke-width="11.0" stroke-linecap="round" stroke-linejoin="round"/><path d="M268.0,539.0 269.2,537.4 270.5,535.7 271.7,534.1 272.9,532.4 274.2,530.8 275.4,529.1 276.6,527.5 277.9,525.8 279.1,524.2 280.3,522.6 281.6,521.1 282.8,519.5 284.1,517.9 285.4,516.4 286.7,514.8 288.0,513.2 289.3,511.6 290.7,510.0 292.0,508.5 293.3,507.0 294.7,505.6 296.0,504.1 297.4,502.7 298.8,501.2 300.3,499.6 301.8,498.1 303.3,496.5 304.8,495.0 306.4,493.6 307.9,492.3 309.5,491.1 311.2,490.0 313.0,489.0 315.0,488.1 317.0,487.3 319.0,486.7 321.0,486.3 323.0,486.0 324.9,486.0 326.9,486.1 328.8,486.2 330.8,486.4 332.8,486.5 334.7,486.6 336.6,486.6 338.6,486.6 340.6,486.7 342.7,486.7 344.8,486.8 346.8,486.9 348.9,486.9 351.0,487.0 353.0,487.1 355.0,487.2 357.1,487.3 359.2,487.4 361.2,487.5 363.3,487.7 365.3,487.9 367.3,488.2 369.2,488.6 371.1,489.1 372.9,489.8 374.8,490.6 376.6,491.6 378.3,492.6 380.0,493.7 381.7,494.8 383.4,495.9 385.0,497.0 386.7,498.1 388.3,499.3 389.9,500.5 391.5,501.6 393.1,502.9 394.7,504.1 396.2,505.4 397.8,506.7 399.3,508.0 400.8,509.3 402.4,510.7 403.9,512.1 405.4,513.5 406.8,514.9 408.3,516.3 409.8,517.8 411.2,519.2 412.7,520.7 414.1,522.2 415.5,523.7 416.9,525.2 418.3,526.8 419.7,528.3 421.1,530.0 422.4,531.6 423.8,533.3 425.1,535.0 426.3,536.6 427.5,538.3 428.6,540.0 429.6,541.7 430.6,543.4 431.5,545.1 432.0,546.0" fill="none" stroke="#2f649b" stroke-width="8.8" stroke-linecap="round" stroke-linejoin="round"/></g>
<g filter="url(#tb)"><path d="M405.0,566.0 403.2,565.0 401.5,564.0 399.8,563.0 398.0,562.1 396.3,561.1 394.5,560.1 392.7,559.0 390.9,558.0 389.2,557.0 387.5,556.1 385.8,555.1 384.0,554.1 382.3,553.1 380.6,552.0 378.8,551.0 377.0,550.0 375.3,549.0 373.5,548.0 371.8,547.0 370.0,546.0 368.2,544.9 366.4,543.9 364.6,542.8 362.9,541.8 361.1,540.8 359.3,539.8 357.5,538.8 355.7,537.9 353.9,537.0 351.9,536.2 349.9,535.5 347.8,534.9 345.7,534.3 343.7,533.6 341.8,532.8 340.1,531.8 338.6,530.6 337.4,529.2 336.3,527.6 335.4,525.9 334.6,524.0 333.8,522.1 333.2,520.0 332.5,518.0 331.8,516.0 331.1,514.0 330.3,512.0 329.5,510.0 328.6,508.1 327.6,506.1 326.7,504.1 325.8,502.1 324.9,500.2 324.1,498.3 323.4,496.4 322.7,494.5 322.2,492.5 321.8,490.4 321.4,488.3 321.2,486.2 321.1,484.1 321.0,482.1 321.0,480.0 321.1,478.0 321.2,476.0 321.4,474.0 321.7,472.0 322.1,470.0 322.5,467.9 323.0,465.8 323.6,463.8 324.3,461.8 325.1,459.9 326.1,458.1 327.3,456.3 328.6,454.7 330.0,453.2 331.5,451.8 333.2,450.7 335.0,449.7 336.8,449.0 338.8,448.4 340.9,448.0 342.9,447.7 345.0,447.6 347.1,447.6 349.2,447.7 351.2,447.9 353.2,448.3 355.1,448.9 356.9,449.7 358.5,450.9 360.0,452.3 361.3,453.9 362.4,455.7 363.3,457.5 364.1,459.4 364.6,461.5 365.1,463.6 365.4,465.7 365.7,467.8 366.0,469.9 366.3,472.0 366.7,474.0 367.0,475.9 367.2,477.9 367.4,479.9 367.4,482.0 367.4,484.0 367.3,486.0 367.2,488.0 367.0,490.1 366.7,492.2 366.3,494.3 365.8,496.3 365.2,498.3 364.6,500.1 363.8,502.0 363.0,503.8 362.1,505.7 361.2,507.5 360.2,509.3 359.3,511.2 358.5,513.1 358.1,514.0" fill="none" stroke="#23507f" stroke-width="11.0" stroke-linecap="round" stroke-linejoin="round"/><path d="M405.0,566.0 403.2,565.0 401.5,564.0 399.8,563.0 398.0,562.1 396.3,561.1 394.5,560.1 392.7,559.0 390.9,558.0 389.2,557.0 387.5,556.1 385.8,555.1 384.0,554.1 382.3,553.1 380.6,552.0 378.8,551.0 377.0,550.0 375.3,549.0 373.5,548.0 371.8,547.0 370.0,546.0 368.2,544.9 366.4,543.9 364.6,542.8 362.9,541.8 361.1,540.8 359.3,539.8 357.5,538.8 355.7,537.9 353.9,537.0 351.9,536.2 349.9,535.5 347.8,534.9 345.7,534.3 343.7,533.6 341.8,532.8 340.1,531.8 338.6,530.6 337.4,529.2 336.3,527.6 335.4,525.9 334.6,524.0 333.8,522.1 333.2,520.0 332.5,518.0 331.8,516.0 331.1,514.0 330.3,512.0 329.5,510.0 328.6,508.1 327.6,506.1 326.7,504.1 325.8,502.1 324.9,500.2 324.1,498.3 323.4,496.4 322.7,494.5 322.2,492.5 321.8,490.4 321.4,488.3 321.2,486.2 321.1,484.1 321.0,482.1 321.0,480.0 321.1,478.0 321.2,476.0 321.4,474.0 321.7,472.0 322.1,470.0 322.5,467.9 323.0,465.8 323.6,463.8 324.3,461.8 325.1,459.9 326.1,458.1 327.3,456.3 328.6,454.7 330.0,453.2 331.5,451.8 333.2,450.7 335.0,449.7 336.8,449.0 338.8,448.4 340.9,448.0 342.9,447.7 345.0,447.6 347.1,447.6 349.2,447.7 351.2,447.9 353.2,448.3 355.1,448.9 356.9,449.7 358.5,450.9 360.0,452.3 361.3,453.9 362.4,455.7 363.3,457.5 364.1,459.4 364.6,461.5 365.1,463.6 365.4,465.7 365.7,467.8 366.0,469.9 366.3,472.0 366.7,474.0 367.0,475.9 367.2,477.9 367.4,479.9 367.4,482.0 367.4,484.0 367.3,486.0 367.2,488.0 367.0,490.1 366.7,492.2 366.3,494.3 365.8,496.3 365.2,498.3 364.6,500.1 363.8,502.0 363.0,503.8 362.1,505.7 361.2,507.5 360.2,509.3 359.3,511.2 358.5,513.1 358.1,514.0" fill="none" stroke="#2f649b" stroke-width="8.8" stroke-linecap="round" stroke-linejoin="round"/></g><g filter="url(#tb)"><path d="M358.1,514.0 357.3,516.0 356.6,517.9 355.9,520.0 355.2,522.0 354.6,524.0 353.9,526.0 353.1,527.8 352.2,529.6 351.2,531.2 350.0,532.7 348.5,534.0 347.0,535.2 345.3,536.3 343.6,537.3 341.8,538.4 340.1,539.5 338.5,540.7 337.0,541.9 335.5,543.2 333.9,544.5 332.3,545.8 330.7,547.1 329.0,548.4 327.4,549.6 325.7,550.8 323.9,551.9 322.1,552.9 320.3,553.9 318.5,554.8 316.6,555.7 314.7,556.5 312.8,557.3 310.9,558.1 308.9,558.9 307.0,559.6 305.0,560.3 303.1,561.0 301.1,561.6 299.1,562.2 297.1,562.8 295.1,563.3 293.1,563.8 291.1,564.4 289.0,564.9 287.0,565.4 285.0,566.0" fill="none" stroke="#23507f" stroke-width="11.0" stroke-linecap="butt" stroke-linejoin="round"/><path d="M358.1,514.0 357.3,516.0 356.6,517.9 355.9,520.0 355.2,522.0 354.6,524.0 353.9,526.0 353.1,527.8 352.2,529.6 351.2,531.2 350.0,532.7 348.5,534.0 347.0,535.2 345.3,536.3 343.6,537.3 341.8,538.4 340.1,539.5 338.5,540.7 337.0,541.9 335.5,543.2 333.9,544.5 332.3,545.8 330.7,547.1 329.0,548.4 327.4,549.6 325.7,550.8 323.9,551.9 322.1,552.9 320.3,553.9 318.5,554.8 316.6,555.7 314.7,556.5 312.8,557.3 310.9,558.1 308.9,558.9 307.0,559.6 305.0,560.3 303.1,561.0 301.1,561.6 299.1,562.2 297.1,562.8 295.1,563.3 293.1,563.8 291.1,564.4 289.0,564.9 287.0,565.4 285.0,566.0" fill="none" stroke="#2f649b" stroke-width="8.8" stroke-linecap="butt" stroke-linejoin="round"/></g>
<g transform="translate(330.4,512.2) rotate(66.6)"><path d="M-20.2,-5.5 Q0,-15.5 20.2,-5.5 Q21.4,0 20.2,5.5 Q0,15.5 -20.2,5.5 Q-21.4,0 -20.2,-5.5Z" fill="url(#pg)"/></g>
<g transform="translate(358.2,514.0) rotate(114.0)"><path d="M-18.2,-5.5 Q0,-14.5 18.2,-5.5 Q19.4,0 18.2,5.5 Q0,14.5 -18.2,5.5 Q-19.4,0 -18.2,-5.5Z" fill="url(#pg)"/></g>
<g transform="translate(350.3,487.5) rotate(2.7)"><path d="M-21.3,-6.5 Q0,-13.0 21.3,-6.5 Q22.5,0 21.3,6.5 Q0,13.0 -21.3,6.5 Q-22.5,0 -21.3,-6.5Z" fill="url(#pg)"/></g>
<polygon points="252.2,543.0 258.1,532.8 271.9,532.8 277.8,543.0 271.9,553.2 258.1,553.2" fill="#187038" stroke="#187038" stroke-width="1" stroke-linejoin="round"/><polygon points="253.2,563.0 259.1,552.8 272.9,552.8 278.8,563.0 272.9,573.2 259.1,573.2" fill="#187038" stroke="#187038" stroke-width="1" stroke-linejoin="round"/><polygon points="270.2,571.5 276.1,561.3 289.9,561.3 295.8,571.5 289.9,581.7 276.1,581.7" fill="#187038" stroke="#187038" stroke-width="1" stroke-linejoin="round"/><line x1="266.0" y1="543.0" x2="267.0" y2="563.0" stroke="#187038" stroke-width="10.6"/><line x1="267.0" y1="563.0" x2="284.0" y2="571.5" stroke="#187038" stroke-width="10.6"/><line x1="264.0" y1="543.0" x2="265.0" y2="563.0" stroke="#238e4e" stroke-width="10.6"/><line x1="265.0" y1="563.0" x2="282.0" y2="571.5" stroke="#238e4e" stroke-width="10.6"/><polygon points="275.8,543.0 269.9,553.2 258.1,553.2 252.2,543.0 258.1,532.8 269.9,532.8" fill="#238e4e" stroke="#238e4e" stroke-width="1" stroke-linejoin="round"/><polygon points="276.8,563.0 270.9,573.2 259.1,573.2 253.2,563.0 259.1,552.8 270.9,552.8" fill="#238e4e" stroke="#238e4e" stroke-width="1" stroke-linejoin="round"/><polygon points="293.8,571.5 287.9,581.7 276.1,581.7 270.2,571.5 276.1,561.3 287.9,561.3" fill="#238e4e" stroke="#238e4e" stroke-width="1" stroke-linejoin="round"/>
<polygon points="424.1,548.2 432.2,540.1 434.2,540.1 445.3,543.1 448.3,554.2 440.2,562.3 438.2,562.3 427.1,559.3" fill="#187038" stroke="#187038" stroke-width="1" stroke-linejoin="round"/><polygon points="419.9,564.0 428.0,555.9 430.0,555.9 441.1,558.9 444.1,570.0 436.0,578.1 434.0,578.1 422.9,575.1" fill="#187038" stroke="#187038" stroke-width="1" stroke-linejoin="round"/><polygon points="399.1,567.4 407.2,559.3 409.2,559.3 420.3,562.3 423.3,573.4 415.2,581.5 413.2,581.5 402.1,578.5" fill="#187038" stroke="#187038" stroke-width="1" stroke-linejoin="round"/><line x1="437.2" y1="551.2" x2="433.0" y2="567.0" stroke="#187038" stroke-width="10.3"/><line x1="433.0" y1="567.0" x2="412.2" y2="570.4" stroke="#187038" stroke-width="10.3"/><line x1="435.2" y1="551.2" x2="431.0" y2="567.0" stroke="#238e4e" stroke-width="10.3"/><line x1="431.0" y1="567.0" x2="410.2" y2="570.4" stroke="#238e4e" stroke-width="10.3"/><polygon points="446.3,554.2 438.2,562.3 427.1,559.3 424.1,548.2 432.2,540.1 443.3,543.1" fill="#238e4e" stroke="#238e4e" stroke-width="1" stroke-linejoin="round"/><polygon points="442.1,570.0 434.0,578.1 422.9,575.1 419.9,564.0 428.0,555.9 439.1,558.9" fill="#238e4e" stroke="#238e4e" stroke-width="1" stroke-linejoin="round"/><polygon points="421.3,573.4 413.2,581.5 402.1,578.5 399.1,567.4 407.2,559.3 418.3,562.3" fill="#238e4e" stroke="#238e4e" stroke-width="1" stroke-linejoin="round"/>
<g filter="url(#tb)"><path d="M512.5,557.0 513.0,555.1 513.5,553.1 514.0,551.2 514.4,549.2 514.8,547.3 515.1,545.2 515.3,543.2 515.4,541.1 515.5,539.0 515.5,536.9 515.5,534.8 515.5,532.6 515.4,530.5 515.5,528.3 515.5,526.2 515.6,524.0 515.7,521.9 515.9,519.8 516.2,517.7 516.5,515.6 516.9,513.5 517.4,511.5 518.1,509.5 518.8,507.6 519.7,505.8 520.8,504.1 522.0,502.5 523.3,501.1 524.8,499.8 526.5,498.7 528.2,497.7 530.0,496.8 531.9,496.1 533.9,495.5 535.9,495.0 537.9,494.6 539.9,494.2 542.0,493.8 544.0,493.4 546.0,492.9 548.0,492.4 550.0,491.8 552.0,491.2 554.0,490.6 555.9,490.0 557.9,489.4 559.9,488.8 561.9,488.1 563.9,487.5 565.9,486.8 567.9,486.1 569.9,485.4 571.8,484.7 573.8,484.1 575.7,483.4 577.7,482.7 579.6,482.0 581.5,481.2 583.4,480.4 585.2,479.5 586.9,478.5 588.5,477.3 590.0,476.0 591.4,474.6 592.7,473.0 593.8,471.3 594.9,469.5 596.0,467.6 597.0,465.7 598.0,463.8 599.0,461.9 600.0,460.0 601.0,458.2 602.0,456.3 603.0,454.4 603.9,452.5 604.9,450.6 605.9,448.8 607.0,447.0 608.0,445.3 609.2,443.6 610.4,442.0 611.8,440.5 613.2,439.1 614.7,437.7 616.3,436.4 617.9,435.2 619.6,434.1 621.4,433.1 623.2,432.3 625.0,431.5 626.9,430.9 628.9,430.3 630.9,429.9 632.9,429.4 634.9,428.9 637.0,428.4 639.0,427.9 641.0,427.3 643.0,426.7 645.1,426.0 647.1,425.3 649.1,424.6 650.9,423.9 652.8,423.2 654.5,422.5 656.2,421.8 658.0,421.2 659.7,420.9 661.5,421.0 663.2,421.5 664.8,422.6 666.3,423.9 667.5,425.5 668.5,427.2 669.4,429.0 670.2,430.9 670.9,432.9 671.7,434.9 672.4,436.8 673.2,438.8 674.0,440.7 675.0,442.6 676.0,444.3 677.2,445.8 678.7,447.0 680.3,448.0 682.1,448.8 684.0,449.4 686.0,449.9 688.1,450.3 690.1,450.8 692.2,451.2 694.2,451.6 696.3,451.9 698.3,452.4 700.3,452.9 702.2,453.5 704.0,454.3 705.8,455.3 707.5,456.4 709.1,457.7 710.6,459.0 712.1,460.4 713.5,461.9 714.9,463.4 716.3,465.1 717.0,466.0" fill="none" stroke="#3568a0" stroke-width="9.5" stroke-linecap="round" stroke-linejoin="round"/><path d="M512.5,557.0 513.0,555.1 513.5,553.1 514.0,551.2 514.4,549.2 514.8,547.3 515.1,545.2 515.3,543.2 515.4,541.1 515.5,539.0 515.5,536.9 515.5,534.8 515.5,532.6 515.4,530.5 515.5,528.3 515.5,526.2 515.6,524.0 515.7,521.9 515.9,519.8 516.2,517.7 516.5,515.6 516.9,513.5 517.4,511.5 518.1,509.5 518.8,507.6 519.7,505.8 520.8,504.1 522.0,502.5 523.3,501.1 524.8,499.8 526.5,498.7 528.2,497.7 530.0,496.8 531.9,496.1 533.9,495.5 535.9,495.0 537.9,494.6 539.9,494.2 542.0,493.8 544.0,493.4 546.0,492.9 548.0,492.4 550.0,491.8 552.0,491.2 554.0,490.6 555.9,490.0 557.9,489.4 559.9,488.8 561.9,488.1 563.9,487.5 565.9,486.8 567.9,486.1 569.9,485.4 571.8,484.7 573.8,484.1 575.7,483.4 577.7,482.7 579.6,482.0 581.5,481.2 583.4,480.4 585.2,479.5 586.9,478.5 588.5,477.3 590.0,476.0 591.4,474.6 592.7,473.0 593.8,471.3 594.9,469.5 596.0,467.6 597.0,465.7 598.0,463.8 599.0,461.9 600.0,460.0 601.0,458.2 602.0,456.3 603.0,454.4 603.9,452.5 604.9,450.6 605.9,448.8 607.0,447.0 608.0,445.3 609.2,443.6 610.4,442.0 611.8,440.5 613.2,439.1 614.7,437.7 616.3,436.4 617.9,435.2 619.6,434.1 621.4,433.1 623.2,432.3 625.0,431.5 626.9,430.9 628.9,430.3 630.9,429.9 632.9,429.4 634.9,428.9 637.0,428.4 639.0,427.9 641.0,427.3 643.0,426.7 645.1,426.0 647.1,425.3 649.1,424.6 650.9,423.9 652.8,423.2 654.5,422.5 656.2,421.8 658.0,421.2 659.7,420.9 661.5,421.0 663.2,421.5 664.8,422.6 666.3,423.9 667.5,425.5 668.5,427.2 669.4,429.0 670.2,430.9 670.9,432.9 671.7,434.9 672.4,436.8 673.2,438.8 674.0,440.7 675.0,442.6 676.0,444.3 677.2,445.8 678.7,447.0 680.3,448.0 682.1,448.8 684.0,449.4 686.0,449.9 688.1,450.3 690.1,450.8 692.2,451.2 694.2,451.6 696.3,451.9 698.3,452.4 700.3,452.9 702.2,453.5 704.0,454.3 705.8,455.3 707.5,456.4 709.1,457.7 710.6,459.0 712.1,460.4 713.5,461.9 714.9,463.4 716.3,465.1 717.0,466.0" fill="none" stroke="#4379b3" stroke-width="7.3" stroke-linecap="round" stroke-linejoin="round"/></g>
<g filter="url(#tb)"><path d="M702.0,487.6 699.9,487.4 697.8,487.3 695.9,487.5 694.1,488.2 692.5,489.2 691.0,490.5 689.8,492.1 688.9,493.8 688.2,495.7 687.6,497.7 687.2,499.7 686.8,501.7 686.5,503.7 686.2,505.8 685.9,507.8 685.6,509.8 685.2,511.8 684.7,513.7 684.1,515.7 683.3,517.6 682.5,519.4 681.4,521.2 680.3,523.0 679.1,524.7 677.7,526.3 676.3,527.9 674.8,529.4 673.1,530.8 671.5,532.1 669.7,533.3 667.9,534.4 666.1,535.5 664.3,536.4 662.5,537.2 660.6,538.0 658.7,538.7 656.8,539.3 654.9,539.9 652.9,540.5 651.0,541.1 649.0,541.6 647.1,542.1 645.1,542.6 643.2,543.2 641.2,543.8 639.3,544.5 637.5,545.3 635.6,546.2 633.8,547.2 632.0,548.2 630.2,549.2 628.3,550.3 626.4,551.3 624.6,552.3 622.7,553.2 620.8,554.0 618.8,554.7 616.8,555.3 614.8,555.9 612.7,556.4 610.7,556.8 608.7,557.2 606.7,557.7 604.8,558.1 602.9,558.6 600.9,559.2 599.0,559.8 597.2,560.5 595.5,561.3 593.8,562.4 592.2,563.5 590.8,564.9 589.4,566.4 588.0,568.0 586.7,569.6 585.3,571.2 584.0,572.9 582.7,574.6 581.3,576.2 580.0,577.8 578.6,579.3 577.1,580.7 575.6,581.8 573.9,582.5 572.1,583.0 570.2,583.1 568.2,582.9 566.3,582.4 564.4,581.6 562.7,580.6 561.0,579.4 559.3,578.1 557.7,576.6 556.1,575.1 554.5,573.5 553.0,571.9 551.4,570.2 549.8,568.6 548.2,567.2 546.6,566.2 544.9,565.6 543.2,565.5 541.5,566.1 539.8,567.0 538.1,568.2 536.4,569.6 534.8,571.1 533.4,572.6 532.0,574.0" fill="none" stroke="#3568a0" stroke-width="9.5" stroke-linecap="round" stroke-linejoin="round"/><path d="M702.0,487.6 699.9,487.4 697.8,487.3 695.9,487.5 694.1,488.2 692.5,489.2 691.0,490.5 689.8,492.1 688.9,493.8 688.2,495.7 687.6,497.7 687.2,499.7 686.8,501.7 686.5,503.7 686.2,505.8 685.9,507.8 685.6,509.8 685.2,511.8 684.7,513.7 684.1,515.7 683.3,517.6 682.5,519.4 681.4,521.2 680.3,523.0 679.1,524.7 677.7,526.3 676.3,527.9 674.8,529.4 673.1,530.8 671.5,532.1 669.7,533.3 667.9,534.4 666.1,535.5 664.3,536.4 662.5,537.2 660.6,538.0 658.7,538.7 656.8,539.3 654.9,539.9 652.9,540.5 651.0,541.1 649.0,541.6 647.1,542.1 645.1,542.6 643.2,543.2 641.2,543.8 639.3,544.5 637.5,545.3 635.6,546.2 633.8,547.2 632.0,548.2 630.2,549.2 628.3,550.3 626.4,551.3 624.6,552.3 622.7,553.2 620.8,554.0 618.8,554.7 616.8,555.3 614.8,555.9 612.7,556.4 610.7,556.8 608.7,557.2 606.7,557.7 604.8,558.1 602.9,558.6 600.9,559.2 599.0,559.8 597.2,560.5 595.5,561.3 593.8,562.4 592.2,563.5 590.8,564.9 589.4,566.4 588.0,568.0 586.7,569.6 585.3,571.2 584.0,572.9 582.7,574.6 581.3,576.2 580.0,577.8 578.6,579.3 577.1,580.7 575.6,581.8 573.9,582.5 572.1,583.0 570.2,583.1 568.2,582.9 566.3,582.4 564.4,581.6 562.7,580.6 561.0,579.4 559.3,578.1 557.7,576.6 556.1,575.1 554.5,573.5 553.0,571.9 551.4,570.2 549.8,568.6 548.2,567.2 546.6,566.2 544.9,565.6 543.2,565.5 541.5,566.1 539.8,567.0 538.1,568.2 536.4,569.6 534.8,571.1 533.4,572.6 532.0,574.0" fill="none" stroke="#4379b3" stroke-width="7.3" stroke-linecap="round" stroke-linejoin="round"/></g>
<g transform="translate(571.5,484.8) rotate(-15.8)"><path d="M-16.5,-6.6 Q0,-10.4 16.5,-6.6 Q17.7,0 16.5,6.6 Q0,10.4 -16.5,6.6 Q-17.7,0 -16.5,-6.6Z" fill="url(#pg)"/></g>
<g transform="translate(639.3,428.1) rotate(-17.7)"><path d="M-16.8,-6.6 Q0,-10.4 16.8,-6.6 Q18.0,0 16.8,6.6 Q0,10.4 -16.8,6.6 Q-18.0,0 -16.8,-6.6Z" fill="url(#pg)"/></g>
<g transform="translate(619.5,555.4) rotate(-14.9)"><path d="M-17.1,-6.6 Q0,-10.4 17.1,-6.6 Q18.3,0 17.1,6.6 Q0,10.4 -17.1,6.6 Q-18.3,0 -17.1,-6.6Z" fill="url(#pg)"/></g>
<polygon points="728.6,468.9 723.8,477.2 714.2,477.2 709.4,468.9 714.2,460.6 723.8,460.6" fill="#2e9a56" stroke="#2e9a56" stroke-width="1.2" stroke-linejoin="round"/>
<polygon points="729.2,484.0 724.5,492.1 715.1,492.1 710.4,484.0 715.1,475.9 724.5,475.9" fill="#2e9a56" stroke="#2e9a56" stroke-width="1.2" stroke-linejoin="round"/>
<polygon points="715.2,492.8 710.6,500.8 701.4,500.8 696.8,492.8 701.4,484.8 710.6,484.8" fill="#2e9a56" stroke="#2e9a56" stroke-width="1.2" stroke-linejoin="round"/>
<line x1="719" y1="468.9" x2="719.8" y2="484" stroke="#2e9a56" stroke-width="8"/><line x1="719.8" y1="484" x2="706" y2="492.8" stroke="#2e9a56" stroke-width="8"/>
<polygon points="516.9,568.0 508.6,572.8 500.3,568.0 500.3,558.4 508.6,553.6 516.9,558.4" fill="#2e9d5c" stroke="#2e9d5c" stroke-width="1.2" stroke-linejoin="round"/>
<polygon points="522.4,582.7 514.1,587.5 505.8,582.7 505.8,573.1 514.1,568.3 522.4,573.1" fill="#2e9d5c" stroke="#2e9d5c" stroke-width="1.2" stroke-linejoin="round"/>
<polygon points="538.3,585.0 530.0,589.8 521.7,585.0 521.7,575.4 530.0,570.6 538.3,575.4" fill="#2e9d5c" stroke="#2e9d5c" stroke-width="1.2" stroke-linejoin="round"/>
<line x1="508.6" y1="563.2" x2="514.1" y2="577.9" stroke="#2e9d5c" stroke-width="8"/><line x1="514.1" y1="577.9" x2="530" y2="580.2" stroke="#2e9d5c" stroke-width="8"/>
</svg>
</body></html>
